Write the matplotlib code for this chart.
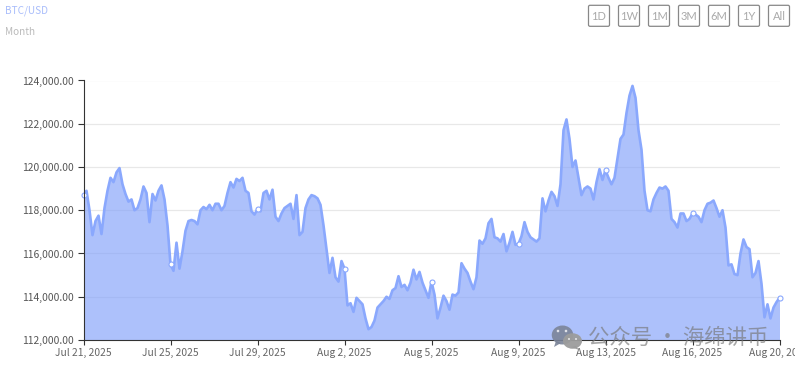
import matplotlib
matplotlib.use("Agg")
import matplotlib.pyplot as plt
from matplotlib.patches import Ellipse, FancyBboxPatch, Polygon
import numpy as np

# prices, one list per tick interval
jul21 = [118700, 118900, 118000, 116850, 117500, 117750, 116900, 118100, 118900, 119500,
         119300, 119750, 119950, 119200, 118750, 118400, 118500, 118000, 118100, 118500,
         119100, 118800, 117450, 118750, 118450, 118900, 119150, 118500, 117300]
jul25 = [115500, 115200, 116500, 115300, 116100, 117050, 117500, 117550, 117500, 117350,
         118000, 118150, 118050, 118250, 118000, 118300, 118300, 118000, 118200, 118800,
         119300, 119050, 119450, 119350, 119500, 118900, 118800, 117950, 117800]
jul29 = [118050, 117950, 118800, 118900, 118500, 118950, 117700, 117500, 117850, 118100,
         118200, 118300, 117600, 118700, 116850, 117000, 118100, 118500, 118700, 118650,
         118550, 118250, 117300, 116200, 115100, 115800, 114900, 114700, 115650]
aug2 = [115300, 113600, 113700, 113300, 113950, 113800, 113650, 113000, 112500, 112600,
        112900, 113500, 113650, 113800, 114000, 113900, 114300, 114400, 114950, 114450,
        114550, 114300, 114650, 115250, 114800, 115150, 114650, 114300, 113950]
aug5 = [114700, 114100, 113000, 113500, 114050, 113800, 113400, 114100, 114050, 114200,
        115550, 115300, 115100, 114700, 114350, 114900, 116600, 116450, 116700, 117400,
        117600, 116750, 116700, 116550, 116900, 116100, 116500, 117000, 116400]
aug9 = [116450, 116800, 117450, 117000, 116750, 116650, 116550, 116700, 118550, 117950,
        118450, 118850, 118650, 118200, 119200, 121700, 122200, 121300, 120000, 120300,
        119500, 118700, 119000, 119100, 119000, 118500, 119300, 119900, 119400]
aug13 = [119850, 119500, 119200, 119500, 120400, 121300, 121500, 122500, 123300, 123750,
         123200, 121700, 120800, 118900, 118000, 117950, 118500, 118800, 119050, 119000,
         119100, 118900, 117600, 117450, 117200, 117850, 117850, 117500, 117600]
aug16 = [117850, 117800, 117700, 117450, 118000, 118300, 118350, 118450, 118100,
         117700, 118000, 117200, 115450, 115500, 115050, 115000, 116000, 116650, 116300,
         116200, 114900, 115100, 115650, 114600, 113050, 113650, 113000, 113500, 113750, 113950]
prices = jul21 + jul25 + jul29 + aug2 + aug5 + aug9 + aug13 + aug16

date_labels = ["Jul 21, 2025", "Jul 25, 2025", "Jul 29, 2025", "Aug 2, 2025", "Aug 5, 2025",
               "Aug 9, 2025", "Aug 13, 2025", "Aug 16, 2025", "Aug 20, 2025"]
y_ticks = [112000, 114000, 116000, 118000, 120000, 122000, 124000]
buttons = ["1D", "1W", "1M", "3M", "6M", "1Y", "All"]

BLUE = "#82a1fa"
LINE = "#8aa8fd"
W, H = 795, 370
plt.rcParams["font.family"] = ["Noto Sans CJK SC", "DejaVu Sans"]

fig = plt.figure(figsize=(W / 100, H / 100), dpi=100)
ax = fig.add_axes([83.5 / W, 1 - 340 / H, 696 / W, 259.5 / H])

x = np.arange(len(prices))
tick_idx = [i * 29 for i in range(len(date_labels))]
prices = np.array(prices)

ax.fill_between(x, prices, 112000, color=BLUE, alpha=0.65, lw=0, zorder=2)
ax.plot(x, prices, color=LINE, lw=1.9, zorder=3)
ax.plot(x[tick_idx], prices[tick_idx], ls="", marker="o", ms=3.6, mfc="white", mec=LINE,
        mew=0.8, clip_on=False, zorder=4)

ax.set_xlim(0, len(prices) - 1)
ax.set_ylim(112000, 124000)
ax.set_xticks(tick_idx)
ax.set_xticklabels(date_labels)
ax.set_yticks(y_ticks)
ax.set_yticklabels([f"{v:,.2f}" for v in y_ticks])
ax.grid(axis="y", color="#e8e8e8", lw=0.9, zorder=1)
ax.set_axisbelow(True)
ax.spines["top"].set_visible(False)
ax.spines["right"].set_visible(False)
for side in ["left", "bottom"]:
    ax.spines[side].set_color("#333333")
    ax.spines[side].set_linewidth(0.8)
    ax.spines[side].set_zorder(5)
ax.tick_params(axis="x", length=3.5, width=0.8, color="#333333", labelcolor="#666666",
               labelsize=7.4, pad=2.5)
ax.tick_params(axis="y", length=4.5, width=0.8, color="#333333", labelcolor="#555555",
               labelsize=7.4, pad=2.5)

# overlay in pixel coordinates for the header, buttons and watermark
ov = fig.add_axes([0, 0, 1, 1], zorder=10)
ov.set_xlim(0, W)
ov.set_ylim(H, 0)
ov.axis("off")

ov.text(5, 10.5, "BTC/USD", color="#a9bdfb", fontsize=7.2, va="center")
ov.text(5, 32, "Month", color="#bbbbbb", fontsize=7.2, va="center")

for i, label in enumerate(buttons):
    bx = 588.5 + 30 * i
    ov.add_patch(FancyBboxPatch((bx + 1, 6.3), 19, 19, boxstyle="round,pad=1,rounding_size=1.5",
                                fc="white", ec="#888888", lw=0.9))
    ov.text(bx + 10.5, 16, label, color="#aaaaaa", fontsize=8, ha="center", va="center",
            family="Lato")

ov.add_patch(Ellipse((562.5, 335), 21.5, 19, fc="#7b8498", ec="none", alpha=0.9))
ov.add_patch(Polygon([(556, 341), (554, 347), (561, 343)], fc="#7b8498", ec="none", alpha=0.9))
ov.add_patch(Ellipse((572.5, 341), 19, 15.5, fc="#9c9c9c", ec="none", alpha=0.95))
ov.add_patch(Polygon([(576, 346), (579, 350), (571, 347)], fc="#9c9c9c", ec="none", alpha=0.95))
for ex, ey, r in [(558, 331, 2.6), (566, 331, 2.6), (569, 339, 2), (576, 339, 2)]:
    ov.add_patch(Ellipse((ex, ey), r, r, fc="white", ec="none", alpha=0.75))
ov.text(678.5, 338, "公众号 · 海绵讲币", color="#777777", alpha=0.65, fontsize=15.4,
        ha="center", va="center")

fig.savefig("out.png", dpi=100)
